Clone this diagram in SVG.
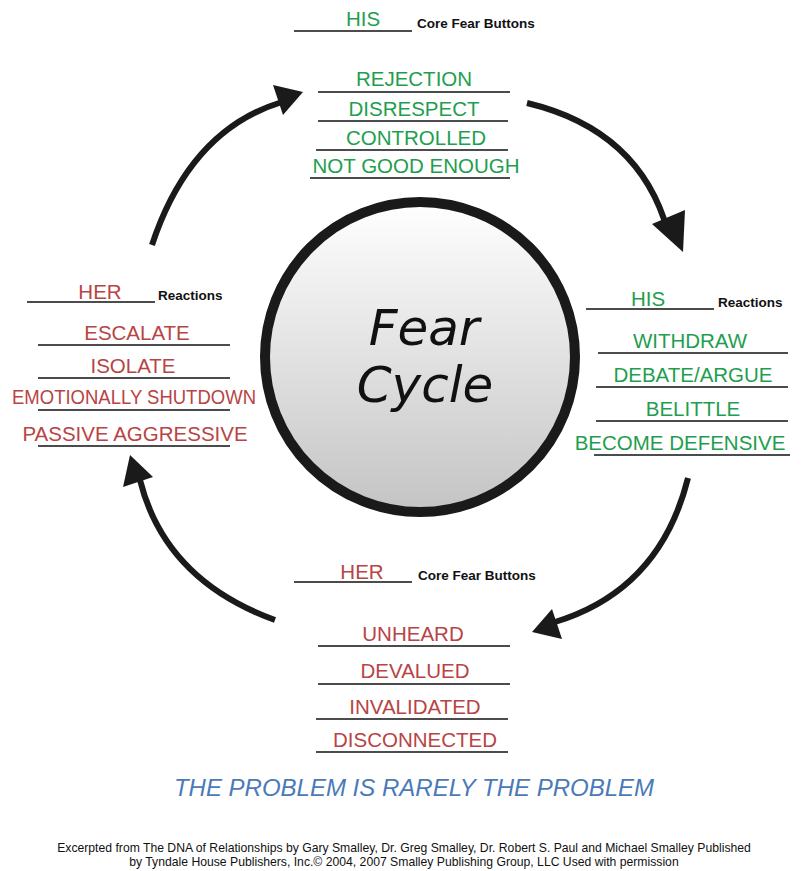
<svg xmlns="http://www.w3.org/2000/svg" width="812" height="871" viewBox="0 0 812 871">
<style>
.g{fill:#1e9e4e;font-family:"Liberation Sans",Arial,sans-serif;font-size:20.5px;text-anchor:middle}
.r{fill:#b84444;font-family:"Liberation Sans",Arial,sans-serif;font-size:20.5px;text-anchor:middle}
.k{fill:#111;font-family:"Liberation Sans",Arial,sans-serif;font-size:13.5px;font-weight:bold}
.ln{stroke:#111;stroke-width:1.5}
.ar{fill:none;stroke:#1a1a1a;stroke-width:6;stroke-linecap:butt}
.hd{fill:#1a1a1a}
</style>
<defs>
<linearGradient id="cg" x1="0" y1="0" x2="0" y2="1">
<stop offset="0" stop-color="#ffffff"/><stop offset="1" stop-color="#c4c4c4"/>
</linearGradient>
</defs>
<rect width="812" height="871" fill="#fff"/>
<g id="center">
<circle cx="420" cy="357" r="155" fill="url(#cg)" stroke="#1a1a1a" stroke-width="10"/>
<text x="424" y="345" font-family="DejaVu Sans, sans-serif" font-style="oblique" font-size="50" text-anchor="middle" fill="#111">Fear</text>
<text x="425" y="402" font-family="DejaVu Sans, sans-serif" font-style="oblique" font-size="50" text-anchor="middle" fill="#111">Cycle</text>
</g>
<g id="connectors">
<path class="ar" d="M152 245 Q190 130 282 102"/>
<polygon class="hd" points="303,92 273,85 283,115"/>
<path class="ar" d="M527 103 Q640 130 668 232"/>
<polygon class="hd" points="683,252 652,224 685,210"/>
<path class="ar" d="M688 478 Q660 590 555 622"/>
<polygon class="hd" points="532,632 562,639 552,609"/>
<path class="ar" d="M275 620 Q165 580 140 480"/>
<polygon class="hd" points="130,455 153,477 123,487"/>
</g>
<g id="his-fear">
<text class="g" x="363" y="26">HIS</text>
<line class="ln" x1="294" y1="31" x2="412" y2="31"/>
<text class="k" x="417" y="28">Core Fear Buttons</text>
<text class="g" x="414" y="86">REJECTION</text><line class="ln" x1="318" y1="92" x2="510" y2="92"/>
<text class="g" x="414" y="116">DISRESPECT</text><line class="ln" x1="318" y1="121" x2="508" y2="121"/>
<text class="g" x="416" y="145">CONTROLLED</text><line class="ln" x1="316" y1="150" x2="508" y2="150"/>
<text class="g" x="416" y="173">NOT GOOD ENOUGH</text><line class="ln" x1="310" y1="178" x2="510" y2="178"/>
</g>
<g id="his-reactions">
<text class="g" x="648" y="306">HIS</text>
<line class="ln" x1="586" y1="309" x2="714" y2="309"/>
<text class="k" x="718" y="307">Reactions</text>
<text class="g" x="690" y="348">WITHDRAW</text><line class="ln" x1="598" y1="353" x2="788" y2="353"/>
<text class="g" x="693" y="382">DEBATE/ARGUE</text><line class="ln" x1="596" y1="387" x2="788" y2="387"/>
<text class="g" x="693" y="416">BELITTLE</text><line class="ln" x1="596" y1="421" x2="788" y2="421"/>
<text class="g" x="680" y="450">BECOME DEFENSIVE</text><line class="ln" x1="594" y1="455" x2="790" y2="455"/>
</g>
<g id="her-reactions">
<text class="r" x="100" y="299">HER</text>
<line class="ln" x1="27" y1="302" x2="155" y2="302"/>
<text class="k" x="158" y="300">Reactions</text>
<text class="r" x="137" y="340">ESCALATE</text><line class="ln" x1="38" y1="345" x2="230" y2="345"/>
<text class="r" x="133" y="373">ISOLATE</text><line class="ln" x1="38" y1="378" x2="230" y2="378"/>
<text class="r" x="134" y="404" font-size="17" textLength="244" lengthAdjust="spacingAndGlyphs">EMOTIONALLY SHUTDOWN</text><line class="ln" x1="38" y1="410" x2="230" y2="410"/>
<text class="r" x="135" y="441">PASSIVE AGGRESSIVE</text><line class="ln" x1="38" y1="446" x2="230" y2="446"/>
</g>
<g id="her-fear">
<text class="r" x="362" y="579">HER</text>
<line class="ln" x1="294" y1="582" x2="412" y2="582"/>
<text class="k" x="418" y="580">Core Fear Buttons</text>
<text class="r" x="413" y="641">UNHEARD</text><line class="ln" x1="318" y1="646" x2="510" y2="646"/>
<text class="r" x="415" y="678">DEVALUED</text><line class="ln" x1="318" y1="684" x2="510" y2="684"/>
<text class="r" x="415" y="714">INVALIDATED</text><line class="ln" x1="316" y1="719" x2="508" y2="719"/>
<text class="r" x="415" y="747">DISCONNECTED</text><line class="ln" x1="316" y1="752" x2="508" y2="752"/>
</g>
<text x="414" y="796" font-family="Liberation Sans, Arial, sans-serif" font-style="italic" font-size="24" fill="#4a7ab8" text-anchor="middle">THE PROBLEM IS RARELY THE PROBLEM</text>
<g font-family="Liberation Sans, Arial, sans-serif" font-size="12.2" fill="#111" text-anchor="middle">
<text x="404" y="852">Excerpted from The DNA of Relationships by Gary Smalley, Dr. Greg Smalley, Dr. Robert S. Paul and Michael Smalley Published</text>
<text x="404" y="866">by Tyndale House Publishers, Inc.© 2004, 2007 Smalley Publishing Group, LLC Used with permission</text>
</g>
</svg>
